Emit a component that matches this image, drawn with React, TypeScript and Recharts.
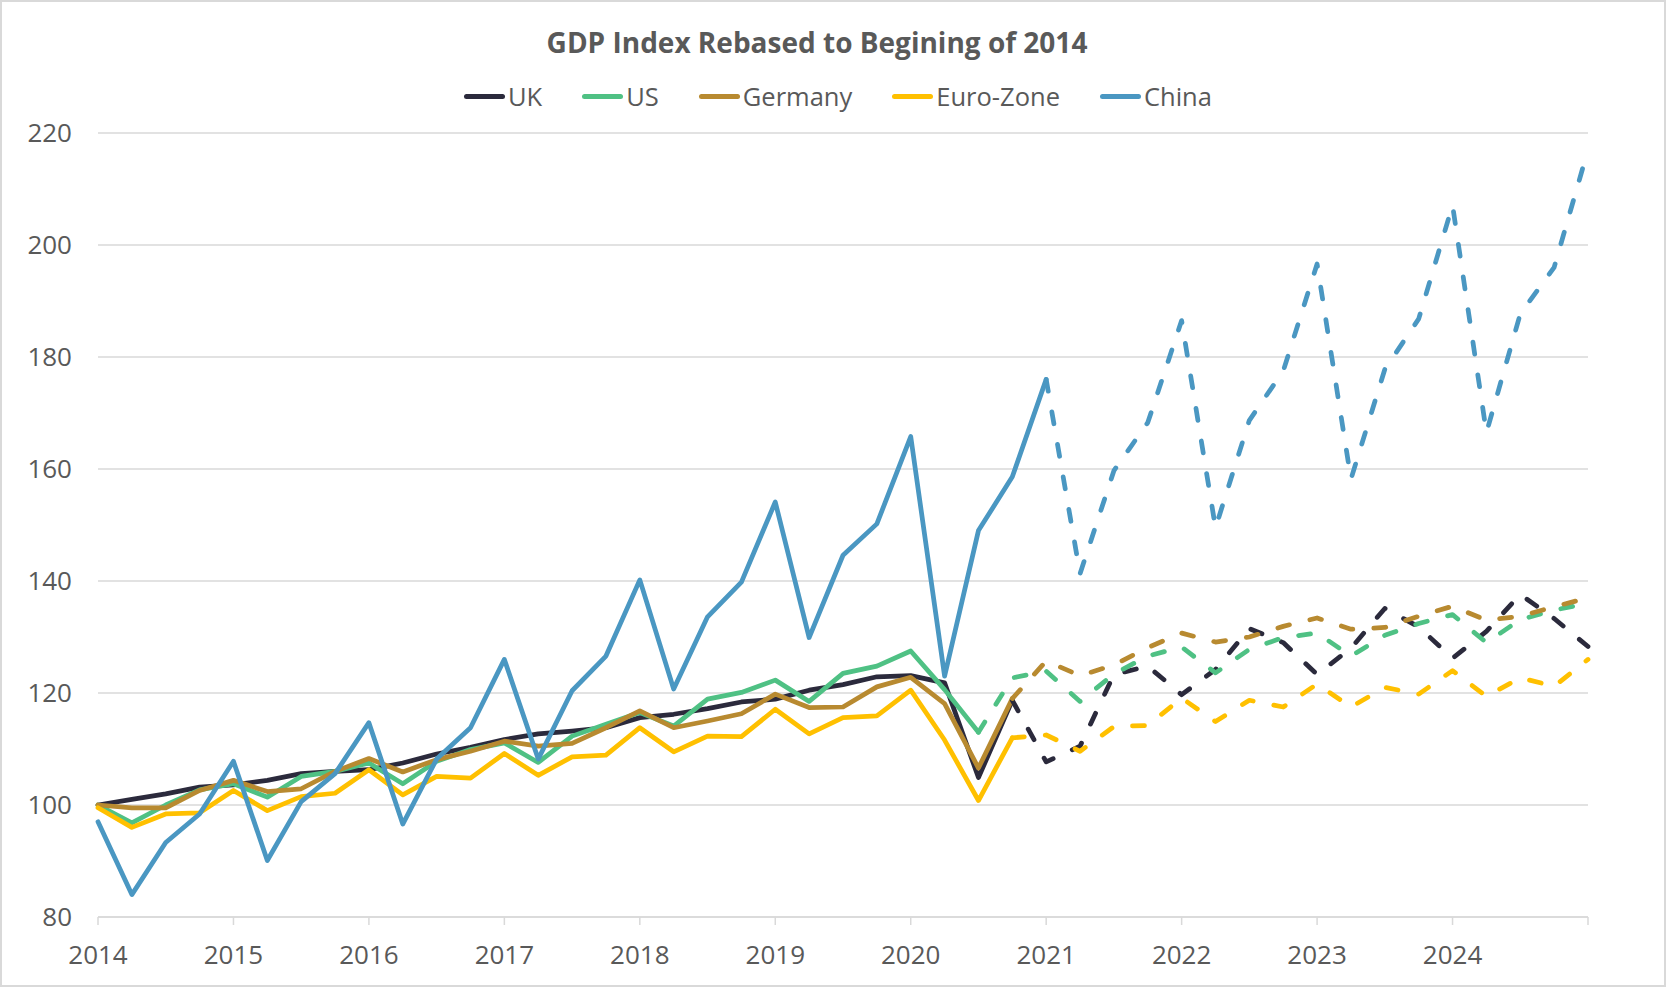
import { LineChart, Line, XAxis, YAxis, CartesianGrid, Legend } from 'recharts';

// Quarterly GDP index, 2014 Q1 = 100. Solid = actual, dashed = projection.
const QUARTERS = [
  '2014 Q1', '2014 Q2', '2014 Q3', '2014 Q4',
  '2015 Q1', '2015 Q2', '2015 Q3', '2015 Q4',
  '2016 Q1', '2016 Q2', '2016 Q3', '2016 Q4',
  '2017 Q1', '2017 Q2', '2017 Q3', '2017 Q4',
  '2018 Q1', '2018 Q2', '2018 Q3', '2018 Q4',
  '2019 Q1', '2019 Q2', '2019 Q3', '2019 Q4',
  '2020 Q1', '2020 Q2', '2020 Q3', '2020 Q4',
  '2021 Q1', '2021 Q2', '2021 Q3', '2021 Q4',
  '2022 Q1', '2022 Q2', '2022 Q3', '2022 Q4',
  '2023 Q1', '2023 Q2', '2023 Q3', '2023 Q4',
  '2024 Q1', '2024 Q2', '2024 Q3', '2024 Q4',
  '2025 Q1',
];

const UK = [
  100, 101, 102, 103.2, 103.6, 104.4, 105.6, 106, 106.3, 107.5, 109.1, 110.3,
  111.7, 112.7, 113.2, 113.8, 115.6, 116.2, 117.2, 118.4, 118.9, 120.5, 121.5, 122.9,
  123.1, 121.8, 104.9, 118.7, 107.7, 110.5, 123.3, 124.8, 119.7, 124.2, 131.5, 129,
  123.3, 128, 135.1, 131.8, 126.2, 131, 137.6, 133.3, 128.3,
];

const US = [
  100, 96.8, 100, 102.7, 103.8, 101.4, 105.1, 106, 107.5, 103.8, 107.8, 109.9,
  111.1, 107.6, 112.3, 114.4, 116.5, 114.1, 118.9, 120.1, 122.3, 118.5, 123.5, 124.8,
  127.5, 120.6, 113, 122.7, 123.9, 118.5, 123.4, 126.6, 128.2, 123.6, 127.8, 129.9,
  130.7, 126.6, 130.3, 132.4, 134, 129, 133.1, 134.8, 136,
];

const GERMANY = [
  100, 99.5, 99.5, 102.6, 104.4, 102.4, 102.9, 106, 108.3, 105.9, 108.1, 109.6,
  111.4, 110.5, 111, 113.8, 116.8, 113.8, 115, 116.3, 119.8, 117.4, 117.5, 121.1,
  122.8, 118.1, 106.6, 119, 125.7, 123.1, 125, 128.1, 130.7, 129.1, 130, 131.9,
  133.4, 131.4, 131.7, 133.7, 135.5, 133, 133.7, 135.4, 137,
];

const EURO_ZONE = [
  99.5, 96, 98.4, 98.6, 102.6, 99, 101.5, 102.1, 106.3, 101.8, 105.1, 104.8,
  109.2, 105.3, 108.6, 108.9, 113.8, 109.5, 112.3, 112.2, 117.1, 112.7, 115.6, 115.9,
  120.5, 111.6, 100.8, 112, 112.5, 109.6, 114, 114.2, 119.1, 114.9, 118.7, 117.5,
  121.6, 117.5, 121, 119.8, 124, 119.4, 122.7, 121.2, 126,
];

const CHINA = [
  97, 84, 93.3, 98.4, 107.8, 90.1, 100.6, 105.6, 114.7, 96.6, 108.2, 113.8,
  126, 108.2, 120.4, 126.6, 140.2, 120.7, 133.6, 139.8, 154.1, 129.9, 144.6, 150.2,
  165.8, 123, 149, 158.6, 176, 141.3, 159.7, 168.3, 186.5, 149.5, 168.7, 177.5,
  196.6, 158.2, 177.8, 186.8, 207.1, 166.5, 187.7, 196, 217,
];

const Y_TICKS = [80, 100, 120, 140, 160, 180, 200, 220];

const SERIES = [
  { key: 'uk', name: 'UK', color: '#2b2a3c', values: UK, lastActual: 27 },
  { key: 'us', name: 'US', color: '#4fc184', values: US, lastActual: 26 },
  { key: 'germany', name: 'Germany', color: '#b88a30', values: GERMANY, lastActual: 27 },
  { key: 'euro', name: 'Euro-Zone', color: '#ffc000', values: EURO_ZONE, lastActual: 27 },
  { key: 'china', name: 'China', color: '#4a97c2', values: CHINA, lastActual: 28 },
];

const TEXT = '#595959';
const GRID = '#d9d9d9';
const FONT = '"Open Sans", sans-serif';

function buildData() {
  return QUARTERS.map((q, i) => {
    const row: Record<string, string | number | null> = { q };
    SERIES.forEach(s => {
      row[s.key] = i <= s.lastActual ? s.values[i] : null;
      row[`${s.key}F`] = i >= s.lastActual ? s.values[i] : null;
    });
    return row;
  });
}

function ChartLegend() {
  return (
    <div style={{ display: 'flex', alignItems: 'center', paddingLeft: 464, fontFamily: FONT, fontSize: 25.5, lineHeight: 1, color: TEXT }}>
      {SERIES.map(s => (
        <div key={s.key} style={{ display: 'flex', alignItems: 'center', marginRight: 40 }}>
          <span style={{ display: 'inline-block', width: 41, height: 5, borderRadius: 3, background: s.color, marginRight: 3 }} />
          <span>{s.name}</span>
        </div>
      ))}
    </div>
  );
}

export default function App() {
  const data = buildData();

  return (
    <div style={{ position: 'absolute', left: 0, top: 0, width: 1666, height: 987, background: '#fff', fontFamily: FONT }}>
      <div style={{ position: 'absolute', inset: 0, border: `2px solid ${GRID}`, boxSizing: 'border-box' }} />
      <div
        style={{
          position: 'absolute', top: 28, left: 0, width: 1634, textAlign: 'center',
          fontSize: 28, fontWeight: 700, lineHeight: 1, color: TEXT,
        }}
      >
        GDP Index Rebased to Begining of 2014
      </div>
      <LineChart
        width={1666}
        height={987}
        data={data}
        margin={{ top: 133, right: 78, bottom: 20, left: 0 }}
        style={{ position: 'absolute', left: 0, top: 0 }}
      >
        <CartesianGrid vertical={false} stroke={GRID} strokeWidth={1.5} />
        <XAxis
          dataKey="q"
          interval={3}
          height={50}
          stroke={GRID}
          strokeWidth={1.5}
          tickSize={8}
          tickMargin={21}
          tick={{ fill: TEXT, fontSize: 26, fontFamily: FONT }}
          tickFormatter={(v: string) => (v.startsWith('2025') ? '' : v.slice(0, 4))}
        />
        <YAxis
          width={98}
          domain={[80, 220]}
          ticks={Y_TICKS}
          axisLine={false}
          tickLine={false}
          tickSize={0}
          tickMargin={26}
          tick={{ fill: TEXT, fontSize: 26, fontFamily: FONT }}
        />
        <Legend
          verticalAlign="middle"
          align="center"
          content={() => <ChartLegend />}
          wrapperStyle={{ top: 84, left: 0, width: 1666 }}
        />
        {SERIES.map(s => (
          <Line
            key={s.key}
            type="linear"
            dataKey={s.key}
            name={s.name}
            stroke={s.color}
            strokeWidth={4.75}
            strokeLinecap="round"
            strokeLinejoin="round"
            dot={false}
            activeDot={false}
            isAnimationActive={false}
          />
        ))}
        {SERIES.map(s => (
          <Line
            key={`${s.key}F`}
            type="linear"
            dataKey={`${s.key}F`}
            name={`${s.name} forecast`}
            stroke={s.color}
            strokeWidth={4.75}
            strokeDasharray="12 21"
            strokeLinecap="round"
            strokeLinejoin="round"
            dot={false}
            activeDot={false}
            legendType="none"
            isAnimationActive={false}
          />
        ))}
      </LineChart>
    </div>
  );
}
